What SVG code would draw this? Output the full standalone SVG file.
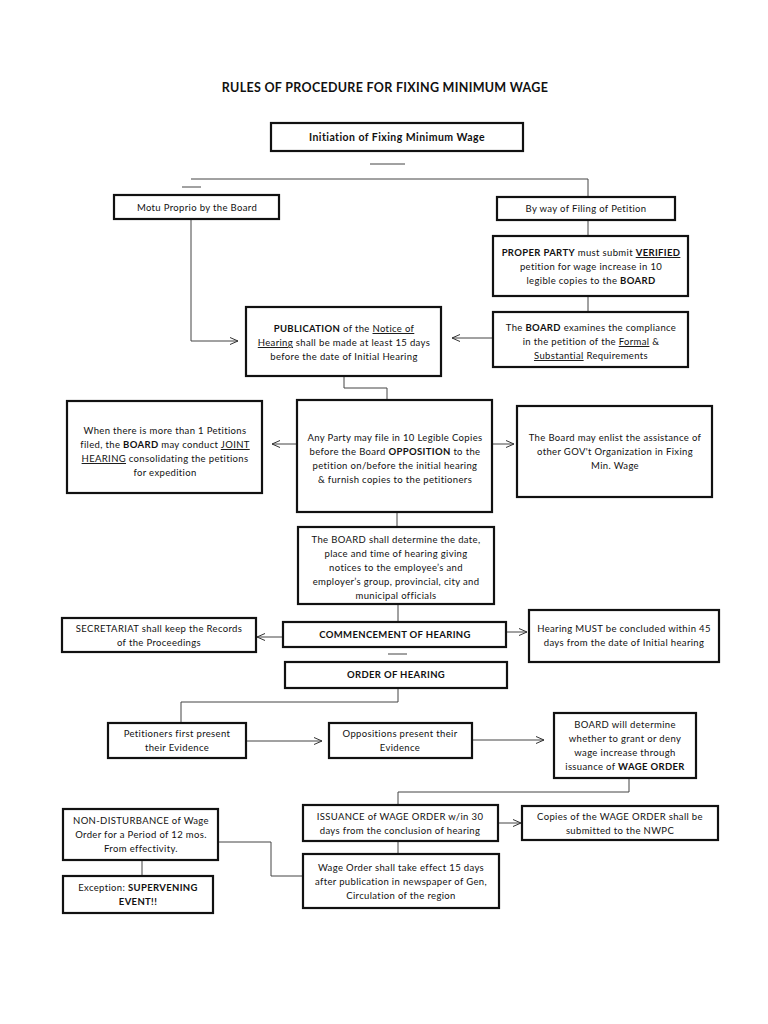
<svg xmlns="http://www.w3.org/2000/svg" width="768" height="1024" viewBox="0 0 768 1024">
<defs>
<marker id="arr" markerWidth="10" markerHeight="10" refX="9" refY="5" orient="auto" markerUnits="userSpaceOnUse">
<path d="M1,1.5 L9,5 L1,8.5" fill="none" stroke="#333" stroke-width="1"/>
</marker>
<style>
.box{fill:#fff;stroke:#111;stroke-width:2.2}
.t{font-family:Lato,"Liberation Sans",sans-serif;font-size:9.5px;letter-spacing:0.35px;fill:#111;text-anchor:middle}
.b{font-weight:bold}
.u{text-decoration:underline}
.title{font-family:Lato,"Liberation Sans",sans-serif;font-size:12.5px;letter-spacing:0.3px;font-weight:bold;fill:#111;text-anchor:middle}
.c{fill:none;stroke:#444;stroke-width:1}
.ca{fill:none;stroke:#444;stroke-width:1;marker-end:url(#arr)}
</style>
</defs>
<rect width="768" height="1024" fill="#fff"/>
<text class="title" x="385" y="92">RULES OF PROCEDURE FOR FIXING MINIMUM WAGE</text>

<g id="connectors">
<path class="c" d="M370,164 H405"/>
<path class="c" d="M191,179 H588 V197"/>
<path class="c" d="M182,187 H201"/>
<path class="ca" d="M191,219 V341 H238"/>
<path class="c" d="M588,220 V236"/>
<path class="c" d="M588,296 V312"/>
<path class="ca" d="M493,338 H452"/>
<path class="c" d="M344,376 V388 H387 V400"/>
<path class="ca" d="M297,444 H272"/>
<path class="ca" d="M492,444 H514"/>
<path class="c" d="M397,512 V527"/>
<path class="c" d="M398,604 V622"/>
<path class="ca" d="M283,637 H257"/>
<path class="ca" d="M506,632 H527"/>
<path class="c" d="M388,654 H407"/>
<path class="c" d="M398,688 V702 H181 V723"/>
<path class="ca" d="M246,741 H322"/>
<path class="ca" d="M472,740 H544"/>
<path class="c" d="M629,778 V792 H398 V805"/>
<path class="ca" d="M498,823 H521"/>
<path class="c" d="M398,841 V854"/>
<path class="c" d="M303,876 H271 V842 H218"/>
<path class="c" d="M142,860 V876"/>
</g>

<g id="n-init"><rect class="box" x="271" y="123" width="252" height="28"/>
<text class="t b" x="397" y="141" style="font-size:10.5px;letter-spacing:0.45px">Initiation of Fixing Minimum Wage</text></g>

<g id="n-motu"><rect class="box" x="114" y="195" width="165" height="24"/>
<text class="t" x="197" y="211">Motu Proprio by the Board</text></g>

<g id="n-byway"><rect class="box" x="497" y="197" width="178" height="23"/>
<text class="t" x="586" y="212">By way of Filing of Petition</text></g>

<g id="n-proper"><rect class="box" x="493" y="236" width="195" height="60"/>
<text class="t" x="591" y="256"><tspan class="b">PROPER PARTY</tspan> must submit <tspan class="b u">VERIFIED</tspan></text>
<text class="t" x="591" y="270">petition for wage increase in 10</text>
<text class="t" x="591" y="284">legible copies to the <tspan class="b">BOARD</tspan></text></g>

<g id="n-examines"><rect class="box" x="493" y="312" width="195" height="55"/>
<text class="t" x="591" y="331">The <tspan class="b">BOARD</tspan> examines the compliance</text>
<text class="t" x="591" y="345">in the petition of the <tspan class="u">Formal</tspan> &amp;</text>
<text class="t" x="591" y="359"><tspan class="u">Substantial</tspan> Requirements</text></g>

<g id="n-publication"><rect class="box" x="246" y="307" width="195" height="69"/>
<text class="t" x="344" y="332"><tspan class="b">PUBLICATION</tspan> of the <tspan class="u">Notice of</tspan></text>
<text class="t" x="344" y="346"><tspan class="u">Hearing</tspan> shall be made at least 15 days</text>
<text class="t" x="344" y="360">before the date of Initial Hearing</text></g>

<g id="n-anyparty"><rect class="box" x="297" y="400" width="195" height="112"/>
<text class="t" x="395" y="441">Any Party may file in 10 Legible Copies</text>
<text class="t" x="395" y="455">before the Board <tspan class="b">OPPOSITION</tspan> to the</text>
<text class="t" x="395" y="469">petition on/before the initial hearing</text>
<text class="t" x="395" y="483">&amp; furnish copies to the petitioners</text></g>

<g id="n-joint"><rect class="box" x="67" y="401" width="195" height="92"/>
<text class="t" x="165" y="434">When there is more than 1 Petitions</text>
<text class="t" x="165" y="448">filed, the <tspan class="b">BOARD</tspan> may conduct <tspan class="u">JOINT</tspan></text>
<text class="t" x="165" y="462"><tspan class="u">HEARING</tspan> consolidating the petitions</text>
<text class="t" x="165" y="476">for expedition</text></g>

<g id="n-enlist"><rect class="box" x="517" y="406" width="195" height="91"/>
<text class="t" x="615" y="441">The Board may enlist the assistance of</text>
<text class="t" x="615" y="455">other GOV't Organization in Fixing</text>
<text class="t" x="615" y="469">Min. Wage</text></g>

<g id="n-determine"><rect class="box" x="298" y="527" width="196" height="77"/>
<text class="t" x="396" y="543">The BOARD shall determine the date,</text>
<text class="t" x="396" y="557">place and time of hearing giving</text>
<text class="t" x="396" y="571">notices to the employee’s and</text>
<text class="t" x="396" y="585">employer’s group, provincial, city and</text>
<text class="t" x="396" y="599">municipal officials</text></g>

<g id="n-commence"><rect class="box" x="283" y="622" width="223" height="25"/>
<text class="t b" x="395" y="638">COMMENCEMENT OF HEARING</text></g>

<g id="n-secretariat"><rect class="box" x="62" y="618" width="194" height="34"/>
<text class="t" x="159" y="632">SECRETARIAT shall keep the Records</text>
<text class="t" x="159" y="646">of the Proceedings</text></g>

<g id="n-45days"><rect class="box" x="529" y="610" width="190" height="52"/>
<text class="t" x="624" y="632">Hearing MUST be concluded within 45</text>
<text class="t" x="624" y="646">days from the date of Initial hearing</text></g>

<g id="n-order"><rect class="box" x="285" y="662" width="222" height="26"/>
<text class="t b" x="396" y="678">ORDER OF HEARING</text></g>

<g id="n-petitioners"><rect class="box" x="108" y="723" width="138" height="35"/>
<text class="t" x="177" y="737">Petitioners first present</text>
<text class="t" x="177" y="751">their Evidence</text></g>

<g id="n-oppositions"><rect class="box" x="329" y="723" width="143" height="35"/>
<text class="t" x="400" y="737">Oppositions present their</text>
<text class="t" x="400" y="751">Evidence</text></g>

<g id="n-grant"><rect class="box" x="554" y="713" width="142" height="65"/>
<text class="t" x="625" y="728">BOARD will determine</text>
<text class="t" x="625" y="742">whether to grant or deny</text>
<text class="t" x="625" y="756">wage increase through</text>
<text class="t" x="625" y="770">issuance of <tspan class="b">WAGE ORDER</tspan></text></g>

<g id="n-issuance"><rect class="box" x="303" y="805" width="195" height="36"/>
<text class="t" x="400" y="820">ISSUANCE of WAGE ORDER w/in 30</text>
<text class="t" x="400" y="834">days from the conclusion of hearing</text></g>

<g id="n-copies"><rect class="box" x="522" y="806" width="196" height="34"/>
<text class="t" x="620" y="820">Copies of the WAGE ORDER shall be</text>
<text class="t" x="620" y="834">submitted to the NWPC</text></g>

<g id="n-effect"><rect class="box" x="303" y="854" width="196" height="54"/>
<text class="t" x="401" y="871">Wage Order shall take effect 15 days</text>
<text class="t" x="401" y="885">after publication in newspaper of Gen,</text>
<text class="t" x="401" y="899">Circulation of the region</text></g>

<g id="n-nondisturb"><rect class="box" x="63" y="809" width="155" height="51"/>
<text class="t" x="141" y="824">NON-DISTURBANCE of Wage</text>
<text class="t" x="141" y="838">Order for a Period of 12 mos.</text>
<text class="t" x="141" y="852">From effectivity.</text></g>

<g id="n-exception"><rect class="box" x="63" y="876" width="150" height="37"/>
<text class="t" x="138" y="891">Exception: <tspan class="b">SUPERVENING</tspan></text>
<text class="t b" x="138" y="905">EVENT!!</text></g>
</svg>
